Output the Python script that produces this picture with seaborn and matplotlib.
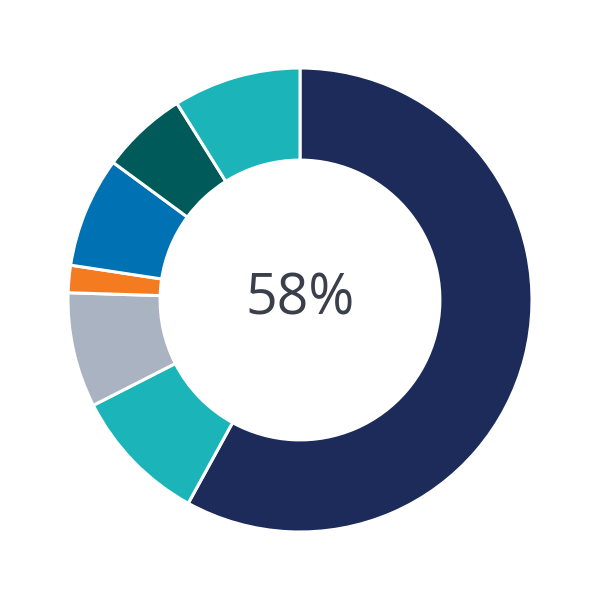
import seaborn as sns
import matplotlib.pyplot as plt

# Share of each segment (%), clockwise from 12 o'clock
segments = ["Navy", "Teal A", "Gray", "Orange", "Blue", "Dark green", "Teal B"]
shares = [58, 9.5, 8, 1.9, 7.7, 6, 8.9]
colors = ["#1c2b5a", "#1bb5b9", "#a9b3c1", "#f47b20", "#0072b4", "#005a5a", "#1bb5b9"]
center_label = "58%"

sns.set_theme(style="white")
plt.rcParams["font.family"] = ["Open Sans", "DejaVu Sans"]

fig = plt.figure(figsize=(6, 6), dpi=100)
ax = fig.add_axes([0, 0, 1, 1])

ax.pie(
    shares,
    colors=sns.color_palette(colors),
    startangle=90,
    counterclock=False,
    radius=1,
    wedgeprops=dict(width=0.397, edgecolor="white", linewidth=2.2),
)

ax.text(0, 0, center_label, ha="center", va="center",
        fontsize=40, color="#3a3f4b")

lim = 300 / 232
ax.set_xlim(-lim, lim)
ax.set_ylim(-lim, lim)
ax.set_aspect("equal")
ax.axis("off")

fig.savefig("out.png", dpi=100, facecolor="white")
